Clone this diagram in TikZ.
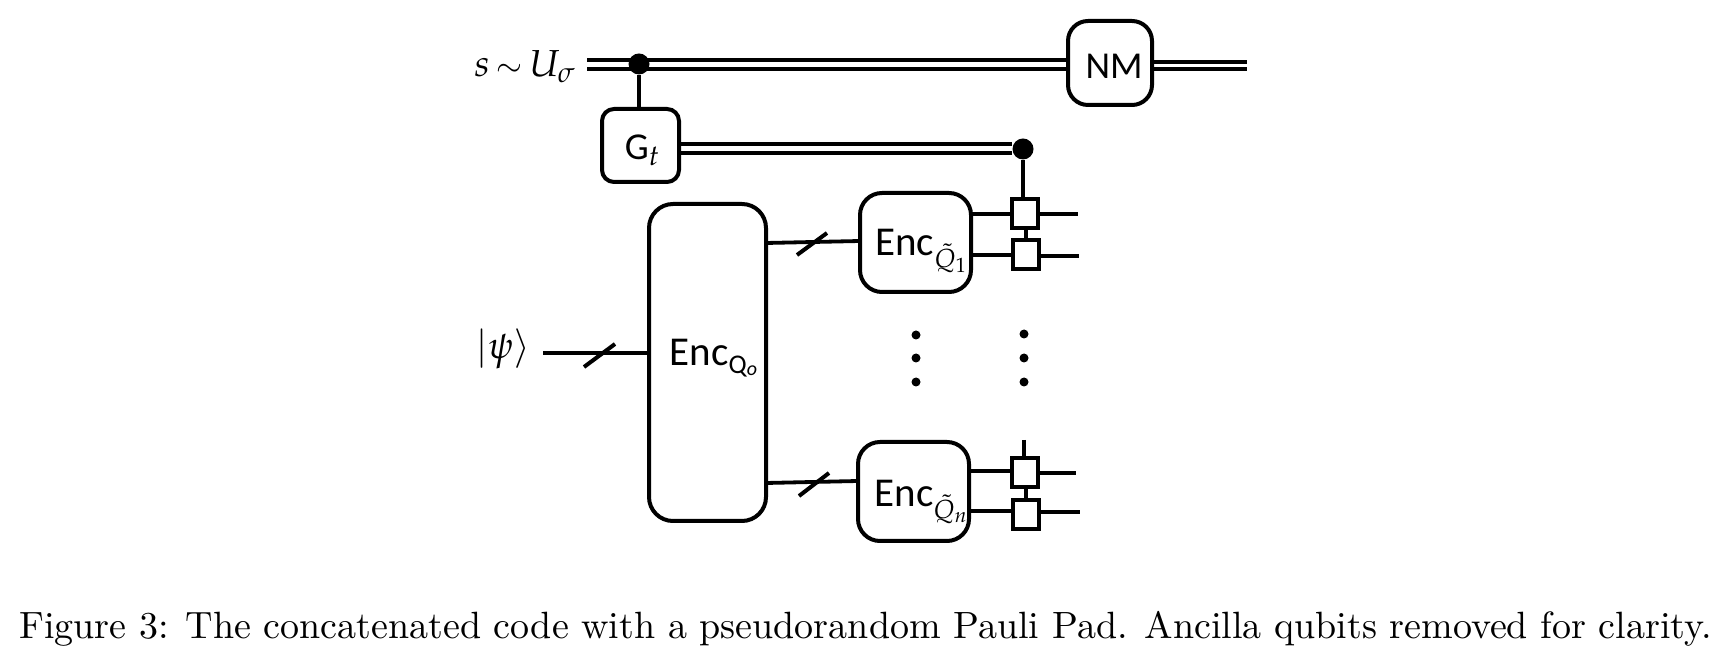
\documentclass[tikz,border=0pt]{standalone}
\usepackage{mathpazo}
\usepackage{fontspec}
\setmainfont{Latin Modern Roman}
\newfontfamily\labelsans{Carlito}
\usetikzlibrary{backgrounds}
\newcommand{\encsub}[1]{_{\raisebox{-2.5pt}{\scalebox{.84}{$\scriptstyle #1$}}}}
\tikzset{
  gatebox/.style={draw=black, fill=white, line width=2pt, outer sep=0pt, inner sep=0pt, font=\labelsans\fontsize{19}{23}\selectfont, text depth=0pt},
  encbox/.style={gatebox, font=\labelsans\fontsize{20.5}{24}\selectfont},
  smallsq/.style={draw=black, fill=white, line width=2pt, outer sep=0pt, inner sep=0pt, minimum width=13pt, minimum height=14.5pt},
  wire/.style={line width=1.9pt},
  slash/.style={line width=2pt},
  classical/.style={double, line width=2pt, double distance=2.5pt},
  classicalthin/.style={double, line width=1.8pt, double distance=1.7pt},
  ctrl/.style={circle, fill=black, inner sep=0pt, minimum size=10.5pt},
  vdot/.style={circle, fill=black, inner sep=0pt, minimum size=4.5pt},
  mathlabel/.style={inner sep=0pt, font=\fontsize{18.8}{23}\selectfont},
}
\begin{document}
\begin{tikzpicture}[x=0.5pt,y=-0.5pt]
\useasboundingbox (0,0) rectangle (1734,656);
% gates
\node[gatebox, rounded corners=10pt, minimum width=42pt, minimum height=42pt, text height=16pt] (nm) at (1110,63) {\hspace*{4pt}NM};
\node[gatebox, rounded corners=6pt, minimum width=38.5pt, minimum height=36.5pt, text height=14.5pt] (gt) at (640.5,145.5) {\hspace*{2pt}G$_t$};
\node[encbox, rounded corners=12pt, minimum width=58.5pt, minimum height=158.5pt, text height=3.5pt] (enc0) at (707.5,362.5) {\hspace*{6pt}Enc\raisebox{-4pt}{\fontsize{13.5}{15}\selectfont Q\raisebox{-1pt}{\fontsize{10}{12}\selectfont\itshape o}}};
\node[encbox, rounded corners=11pt, minimum width=55.5pt, minimum height=49.5pt, text height=13.5pt] (enc1) at (915.5,242.5) {\hspace*{6pt}Enc$\encsub{\tilde Q_1}$};
\node[encbox, rounded corners=11pt, minimum width=55.5pt, minimum height=49.5pt, text height=15.5pt] (encn) at (913.5,491.5) {\hspace*{8pt}Enc$\encsub{\tilde Q_n}$};
% small squares
\node[smallsq] (a1) at (1025,213.5) {};
\node[smallsq] (a2) at (1026,255) {};
\node[smallsq] (b1) at (1025,473) {};
\node[smallsq] (b2) at (1026,514.5) {};
% controls
\node[ctrl] (c1) at (639,64) {};
\node[ctrl] (c2) at (1023,149) {};
% labels
\node[mathlabel, anchor=base west] (slabel) at (474,77) {$s\mkern3mu\mathord{\scalebox{.85}{$\sim$}}\mkern3mu U_\sigma$};
\node[mathlabel, font=\fontsize{19}{23}\selectfont] (psi) at (503,349) {$|\psi\rangle$};
% free ends
\coordinate (s0) at (587,64.5);
\coordinate (nmout) at (1247,65.5);
\coordinate (gtr) at (679,149);
\coordinate (psi0) at (543,353);
\coordinate (a1r) at (1078,214);
\coordinate (a2r) at (1079,256);
\coordinate (b1r) at (1076,473);
\coordinate (b2r) at (1080,512);
\coordinate (stub) at (1024,440);
\coordinate (w1a) at (766,243);
\coordinate (w1b) at (860,241);
\coordinate (w2a) at (766,483);
\coordinate (w2b) at (858,481);
\coordinate (psi1) at (649,353);
\coordinate (e1a) at (971,214);
\coordinate (e1b) at (971,255);
\coordinate (enA) at (969,471);
\coordinate (enB) at (969,511);
% slash ends
\coordinate (sl0a) at (584,367); \coordinate (sl0b) at (615,344);
\coordinate (sl1a) at (797,255); \coordinate (sl1b) at (827,233);
\coordinate (sl2a) at (799,496); \coordinate (sl2b) at (829,473);
% classical wires
\begin{pgfonlayer}{background}
\draw[classical] (s0) -- (nm.west |- s0);
\draw[classicalthin] (nm.east |- nmout) -- (nmout);
\draw[classical] (gtr) -- (c2);
\end{pgfonlayer}
% quantum wires
\draw[wire] (c1) -- (gt.north -| c1);
\draw[wire] (c2) -- (a1.north -| c2);
\draw[wire] (a1.south -| a2) -- (a2.north);
\draw[wire] (b1.south -| b2) -- (b2.north);
\draw[wire] (stub) -- (b1.north -| stub);
\draw[wire] (psi0) -- (psi1);
\draw[wire] (w1a) -- (w1b);
\draw[wire] (w2a) -- (w2b);
\draw[wire] (e1a) -- (a1.west |- e1a);
\draw[wire] (e1b) -- (a2.west |- e1b);
\draw[wire] (a1.east |- a1r) -- (a1r);
\draw[wire] (a2.east |- a2r) -- (a2r);
\draw[wire] (enA) -- (b1.west |- enA);
\draw[wire] (enB) -- (b2.west |- enB);
\draw[wire] (b1.east |- b1r) -- (b1r);
\draw[wire] (b2.east |- b2r) -- (b2r);
% slashes
\draw[slash] (sl0a) -- (sl0b);
\draw[slash] (sl1a) -- (sl1b);
\draw[slash] (sl2a) -- (sl2b);
% vertical dots
\node[vdot] (d1) at (916,335) {};
\node[vdot] (d2) at (916,358) {};
\node[vdot] (d3) at (916,382) {};
\node[vdot] (d4) at (1024,334) {};
\node[vdot] (d5) at (1024,358) {};
\node[vdot] (d6) at (1024,382) {};
% caption
\node[anchor=base west, inner sep=0pt] (caption) at (19,639) {\scalebox{1.9}{Figure 3: The concatenated code with a pseudorandom Pauli Pad. Ancilla qubits removed for clarity.}};
\end{tikzpicture}
\end{document}
